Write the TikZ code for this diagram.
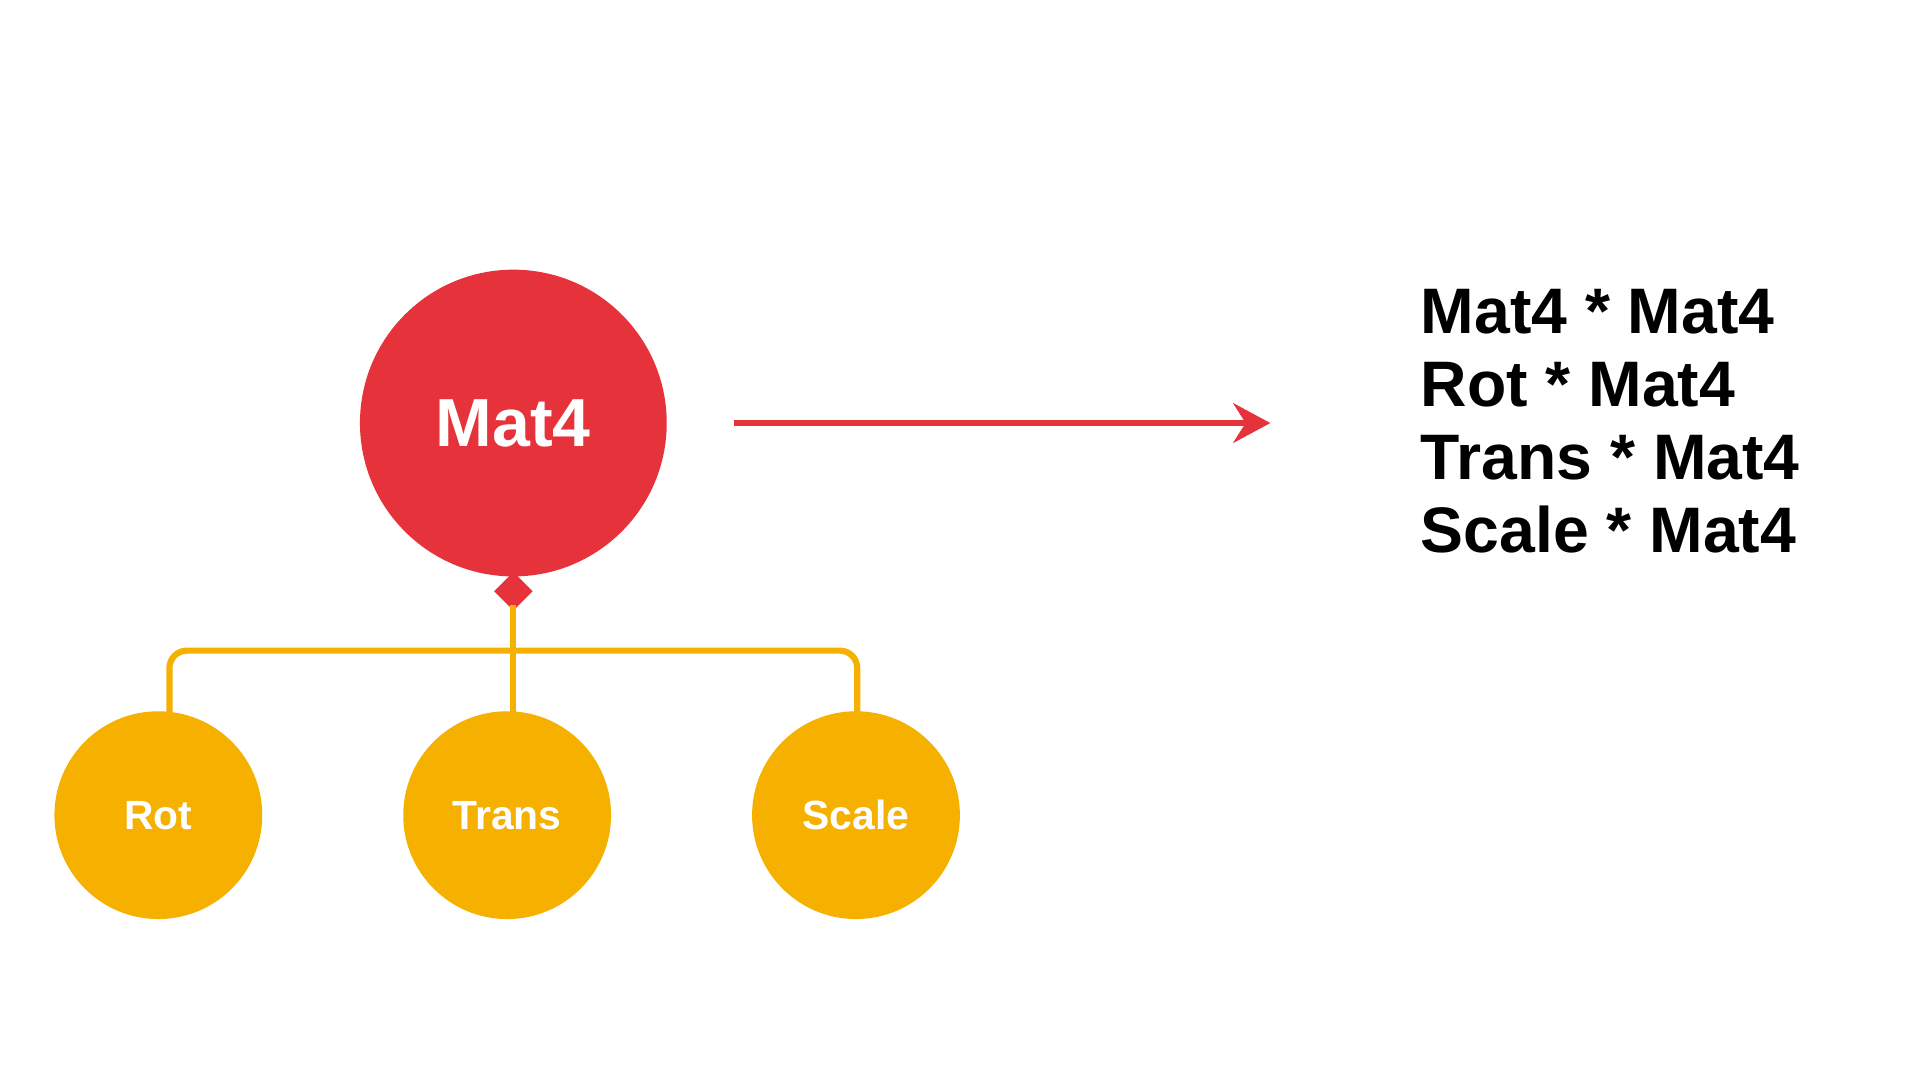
\documentclass[tikz,border=0pt]{standalone}
\usepackage{fontspec}
\setmainfont{Liberation Sans}
\usetikzlibrary{arrows.meta}
\definecolor{myred}{HTML}{E6323A}
\definecolor{myyel}{HTML}{F5B000}
\begin{document}
\begin{tikzpicture}[x=1pt,y=-1pt,
  big/.style={circle,fill=myred,minimum size=248pt,inner sep=0pt,text=white,font=\bfseries\fontsize{55}{60}\selectfont},
  small/.style={circle,fill=myyel,minimum size=168pt,inner sep=0pt,text=white,font=\bfseries\fontsize{33}{36}\selectfont},
  yl/.style={draw=myyel,line width=5pt,rounded corners=14pt},
  eq/.style={anchor=west,font=\bfseries\fontsize{52}{58}\selectfont}]
\useasboundingbox (0,0) rectangle (1553,874);
\node[big] (m) at (415,342) {Mat4};
\node[small] (r) at (128,659) {Rot};
\node[small] (t) at (410,659) {Trans};
\node[small] (s) at (692,659) {Scale};
\node[fill=myred,minimum size=22pt,inner sep=0pt,rotate=45] (d) at (415,478) {};
\coordinate (a0) at (593,342);
\coordinate (a1) at (1027,342);
\draw[myred,line width=5pt,-{Stealth[length=30pt,width=32pt,inset=10pt]}] (a0) -- (a1);
\draw[yl] (d.south east) ++(0,0) coordinate (dd);
\draw[yl] (415,489) -- (415,578);
\draw[yl] (137,578) -- (137,526) -- (693,526) -- (693,578);
\node[eq] (e1) at (1145,252) {Mat4 * Mat4};
\node[eq] (e2) at (1145,311) {Rot * Mat4};
\node[eq] (e3) at (1145,370) {Trans * Mat4};
\node[eq] (e4) at (1145,428) {Scale * Mat4};
\end{tikzpicture}
\end{document}
